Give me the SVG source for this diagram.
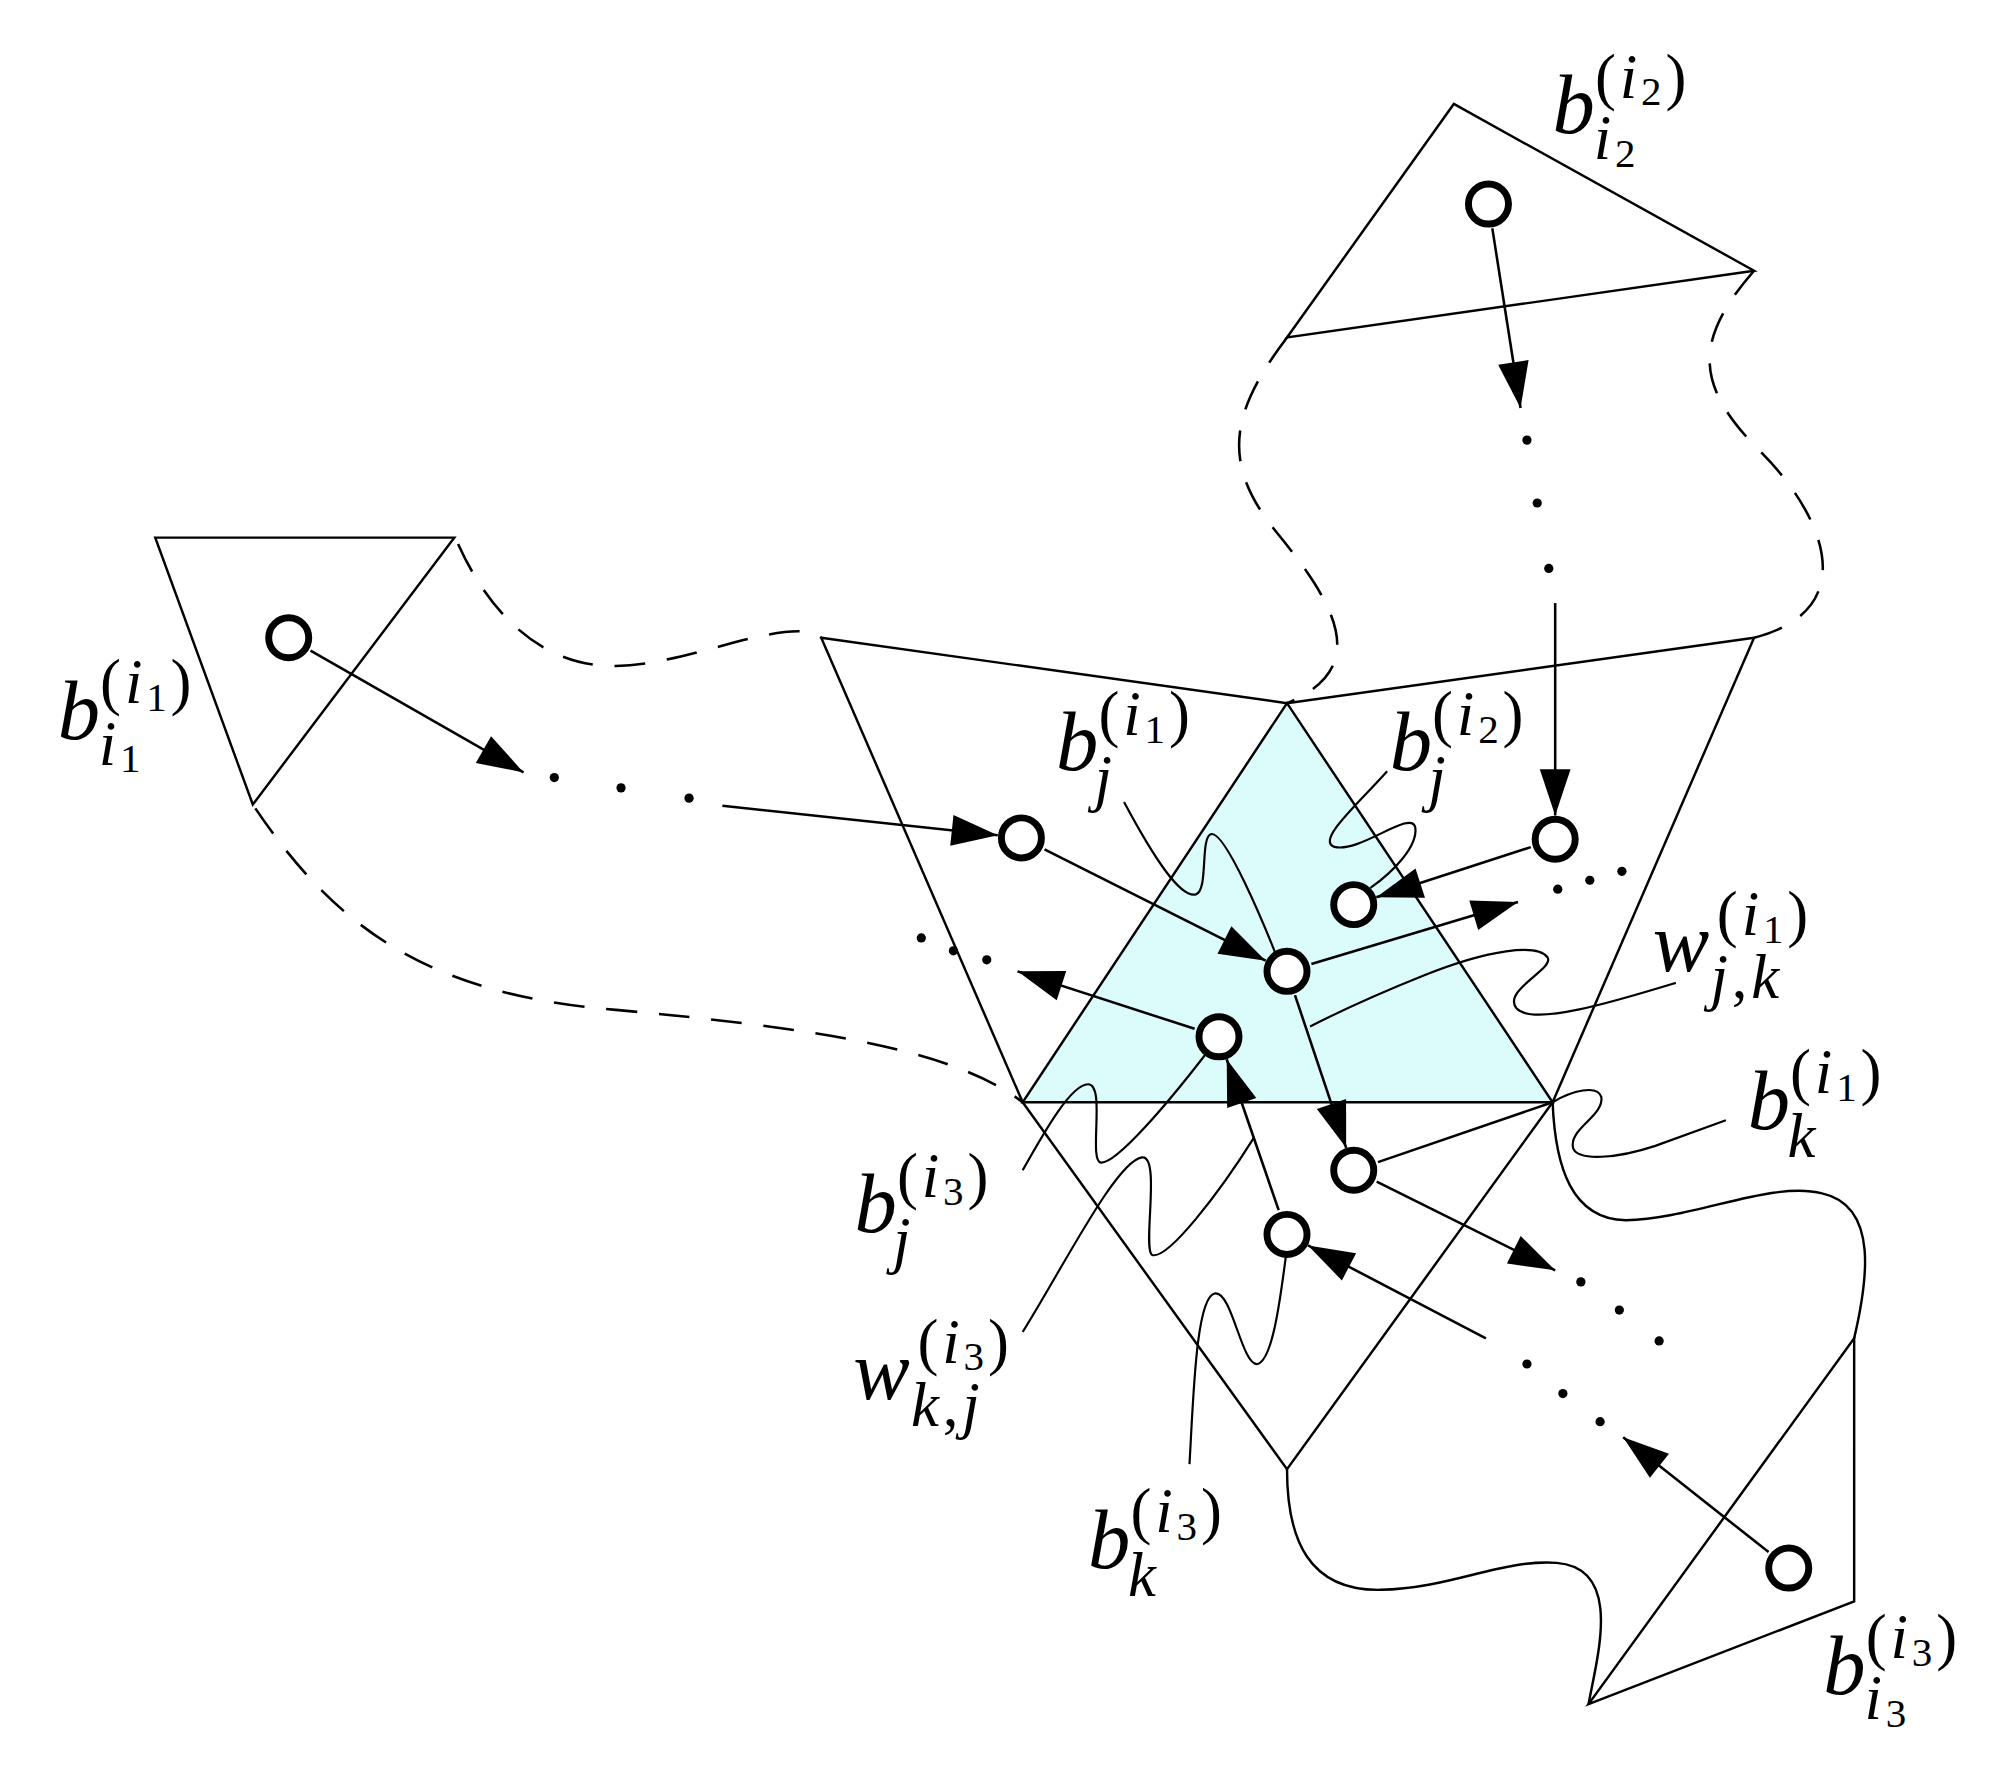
<svg xmlns="http://www.w3.org/2000/svg" width="2012" height="1772" viewBox="0 0 2012 1772">
<style>
.ln{fill:none;stroke:#000;stroke-width:1.9;stroke-linejoin:miter}
.ds{fill:none;stroke:#000;stroke-width:2;stroke-dasharray:24 17}
.ar{fill:none;stroke:#000;stroke-width:2;marker-end:url(#ah)}
.pt{fill:none;stroke:#000;stroke-width:1.7}
.nd{fill:#fff;stroke:#000;stroke-width:5.4}
.dot{fill:#000}
text{font-family:"Liberation Serif","Times New Roman",serif;fill:#000;font-size:49px}
.v{font-style:italic;font-size:66px}
.s{font-size:49px;letter-spacing:3px;font-style:normal}
.it{font-style:italic}
.ss{font-size:32px;letter-spacing:3px;font-style:normal}
</style>
<defs>
<marker id="ah" markerUnits="userSpaceOnUse" markerWidth="36" markerHeight="24" viewBox="0 0 36 24" refX="36" refY="12" orient="auto" overflow="visible">
<path d="M0,0 L36,12 L0,24 Z" fill="#000"/>
</marker>
</defs>
<rect width="2012" height="1772" fill="#fff"/>
<g transform="scale(1.28316)">
<g id="shapes">
<polygon id="core" points="1003,548 797,859 1210,859" fill="#dcfcfc" stroke="#000" stroke-width="1.9"/>
<polygon id="tri-i1" class="ln" points="121,419 354,419 197,627"/>
<polygon id="tri-i2" class="ln" points="1133,81 1367,211 1003,263"/>
<polygon id="tri-i3" class="ln" points="1445,1043 1445,1248 1238,1328"/>
<polyline class="ln" points="640,497 1003,548 1367,497"/>
<line class="ln" x1="640" y1="497" x2="797" y2="859"/>
<line class="ln" x1="1367" y1="497" x2="1210" y2="859"/>
<polyline class="ln" points="797,859 1003,1145 1210,859"/>
</g>
<g id="boundaries">
<path class="ds" d="M357,424 C380,475 420,520 480,519 C530,518 585,492 622,492 C632,492 637,494 640,497"/>
<path class="ds" d="M199,630 C260,720 330,775 480,787 C620,800 740,815 797,859"/>
<path class="ds" d="M1003,263 C960,320 950,360 995,415 C1040,470 1070,520 1003,548"/>
<path class="ds" d="M1367,211 C1320,265 1320,300 1372,352 C1422,402 1452,475 1367,497"/>
<path class="ln" d="M1210,859 C1212,910 1225,950 1267,951 C1320,950 1380,920 1420,930 C1465,940 1455,1000 1445,1043"/>
<path class="ln" d="M1003,1145 C1003,1200 1020,1240 1076,1239 C1130,1238 1170,1215 1213,1218 C1265,1222 1245,1290 1238,1328"/>
</g>
<g id="pointers">
<path class="pt" d="M876,625 C900,670 920,700 932,697 C942,694 935,652 944,650 C955,648 985,720 996,748"/>
<path class="pt" d="M1081,601 C1060,625 1025,655 1040,660 C1060,665 1100,630 1103,645 C1105,660 1085,680 1068,692"/>
<path class="pt" d="M1306,766 C1260,780 1195,800 1182,786 C1170,772 1212,755 1206,746 C1198,735 1160,740 1110,760 C1080,772 1050,785 1021,800"/>
<path class="pt" d="M797,912 C815,880 835,845 848,845 C862,845 848,905 858,906 C870,907 910,860 940,821"/>
<path class="pt" d="M797,1038 C830,985 870,905 890,902 C905,900 890,975 898,978 C910,982 950,930 977,887"/>
<path class="pt" d="M927,1141 C930,1090 932,1010 947,1008 C960,1006 968,1065 980,1063 C992,1060 998,1010 1002,980"/>
<path class="pt" d="M1345,873 L1290,893 C1260,903 1230,905 1226,895 C1222,880 1250,870 1248,855 C1245,845 1225,850 1210,859"/>
</g>
<g id="connectors">
<line class="ar" x1="242" y1="507" x2="408" y2="602"/>
<line class="ar" x1="563" y1="628" x2="777.6" y2="651"/>
<line class="ar" x1="814" y1="662" x2="986.4" y2="748.7"/>
<line class="ar" x1="1022" y1="751.3" x2="1183" y2="703"/>
<line class="ar" x1="1193" y1="660.2" x2="1072.6" y2="699.3"/>
<line class="ar" x1="1163" y1="178" x2="1185" y2="318"/>
<line class="ar" x1="1212" y1="470" x2="1212" y2="635.5"/>
<line class="ar" x1="931" y1="801.8" x2="793" y2="757"/>
<line class="ar" x1="1009.2" y1="775.5" x2="1049.1" y2="894.5"/>
<line class="ar" x1="1072.9" y1="920.9" x2="1212" y2="990"/>
<line class="ar" x1="1158" y1="1043" x2="1019.4" y2="970.6"/>
<line class="ar" x1="1378.3" y1="1209.6" x2="1265" y2="1120"/>
<line class="ar" x1="996.5" y1="943.1" x2="956" y2="825.5"/>
<line class="ln" x1="1073.9" y1="905.6" x2="1210" y2="859" stroke-width="2"/>
</g>
<g id="dots">
<circle class="dot" cx="432" cy="606" r="3.6"/><circle class="dot" cx="484" cy="614" r="3.6"/><circle class="dot" cx="537" cy="622" r="3.6"/>
<circle class="dot" cx="1190" cy="343" r="3.6"/><circle class="dot" cx="1198" cy="392" r="3.6"/><circle class="dot" cx="1207" cy="443" r="3.6"/>
<circle class="dot" cx="1214" cy="693" r="3.6"/><circle class="dot" cx="1239" cy="686" r="3.6"/><circle class="dot" cx="1264" cy="679" r="3.6"/>
<circle class="dot" cx="718" cy="731" r="3.6"/><circle class="dot" cx="743" cy="741" r="3.6"/><circle class="dot" cx="769" cy="748" r="3.6"/>
<circle class="dot" cx="1232" cy="999" r="3.6"/><circle class="dot" cx="1262" cy="1021" r="3.6"/><circle class="dot" cx="1293" cy="1045" r="3.6"/>
<circle class="dot" cx="1190" cy="1063" r="3.6"/><circle class="dot" cx="1218" cy="1086" r="3.6"/><circle class="dot" cx="1247" cy="1108" r="3.6"/>
</g>
<g id="node-I"><circle class="nd" cx="225" cy="497" r="15.6"/></g>
<g id="node-J"><circle class="nd" cx="1160" cy="159" r="15.6"/></g>
<g id="node-A"><circle class="nd" cx="796" cy="653" r="15.6"/></g>
<g id="node-B"><circle class="nd" cx="1003" cy="757" r="15.6"/></g>
<g id="node-C"><circle class="nd" cx="1212" cy="654" r="15.6"/></g>
<g id="node-D"><circle class="nd" cx="1055" cy="705" r="15.6"/></g>
<g id="node-E"><circle class="nd" cx="950" cy="808" r="15.6"/></g>
<g id="node-F"><circle class="nd" cx="1055" cy="912" r="15.6"/></g>
<g id="node-G"><circle class="nd" cx="1003" cy="962" r="15.6"/></g>
<g id="node-H"><circle class="nd" cx="1394" cy="1222" r="15.6"/></g>

<g id="label-b-i1-i1" transform="translate(45,576)">
<text><tspan class="v" x="0" y="0">b</tspan><tspan class="s" x="33" y="-28">(</tspan><tspan class="s it">i</tspan><tspan class="ss" dy="6">1</tspan><tspan class="s" dy="-6">)</tspan><tspan class="s it" x="32" y="20">i</tspan><tspan class="ss" dy="6">1</tspan></text>
</g>
<g id="label-b-i2-i2" transform="translate(1210,104)">
<text><tspan class="v" x="0" y="0">b</tspan><tspan class="s" x="33" y="-28">(</tspan><tspan class="s it">i</tspan><tspan class="ss" dy="6">2</tspan><tspan class="s" dy="-6">)</tspan><tspan class="s it" x="32" y="20">i</tspan><tspan class="ss" dy="6">2</tspan></text>
</g>
<g id="label-b-j-i1" transform="translate(823,600)">
<text><tspan class="v" x="0" y="0">b</tspan><tspan class="s" x="33" y="-27">(</tspan><tspan class="s it">i</tspan><tspan class="ss" dy="6">1</tspan><tspan class="s" dy="-6">)</tspan><tspan class="s it" x="30" y="23">j</tspan></text>
</g>
<g id="label-b-j-i2" transform="translate(1083,600)">
<text><tspan class="v" x="0" y="0">b</tspan><tspan class="s" x="33" y="-27">(</tspan><tspan class="s it">i</tspan><tspan class="ss" dy="6">2</tspan><tspan class="s" dy="-6">)</tspan><tspan class="s it" x="30" y="23">j</tspan></text>
</g>
<g id="label-w-jk-i1" transform="translate(1288,757)">
<text><tspan class="v" x="0" y="0">w</tspan><tspan class="s" x="50" y="-28">(</tspan><tspan class="s it">i</tspan><tspan class="ss" dy="6">1</tspan><tspan class="s" dy="-6">)</tspan><tspan class="s it" x="45" y="21">j</tspan><tspan class="s">,</tspan><tspan class="s it">k</tspan></text>
</g>
<g id="label-b-k-i1" transform="translate(1362,880)">
<text><tspan class="v" x="0" y="0">b</tspan><tspan class="s" x="33" y="-28">(</tspan><tspan class="s it">i</tspan><tspan class="ss" dy="6">1</tspan><tspan class="s" dy="-6">)</tspan><tspan class="s it" x="31" y="22">k</tspan></text>
</g>
<g id="label-b-j-i3" transform="translate(666,960)">
<text><tspan class="v" x="0" y="0">b</tspan><tspan class="s" x="33" y="-27">(</tspan><tspan class="s it">i</tspan><tspan class="ss" dy="6">3</tspan><tspan class="s" dy="-6">)</tspan><tspan class="s it" x="30" y="23">j</tspan></text>
</g>
<g id="label-w-kj-i3" transform="translate(665,1090)">
<text><tspan class="v" x="0" y="0">w</tspan><tspan class="s" x="50" y="-28">(</tspan><tspan class="s it">i</tspan><tspan class="ss" dy="6">3</tspan><tspan class="s" dy="-6">)</tspan><tspan class="s it" x="45" y="21">k</tspan><tspan class="s">,</tspan><tspan class="s it">j</tspan></text>
</g>
<g id="label-b-k-i3" transform="translate(848,1222)">
<text><tspan class="v" x="0" y="0">b</tspan><tspan class="s" x="33" y="-28">(</tspan><tspan class="s it">i</tspan><tspan class="ss" dy="6">3</tspan><tspan class="s" dy="-6">)</tspan><tspan class="s it" x="31" y="22">k</tspan></text>
</g>
<g id="label-b-i3-i3" transform="translate(1421,1320)">
<text><tspan class="v" x="0" y="0">b</tspan><tspan class="s" x="33" y="-28">(</tspan><tspan class="s it">i</tspan><tspan class="ss" dy="6">3</tspan><tspan class="s" dy="-6">)</tspan><tspan class="s it" x="32" y="20">i</tspan><tspan class="ss" dy="6">3</tspan></text>
</g>
</g>
</svg>
